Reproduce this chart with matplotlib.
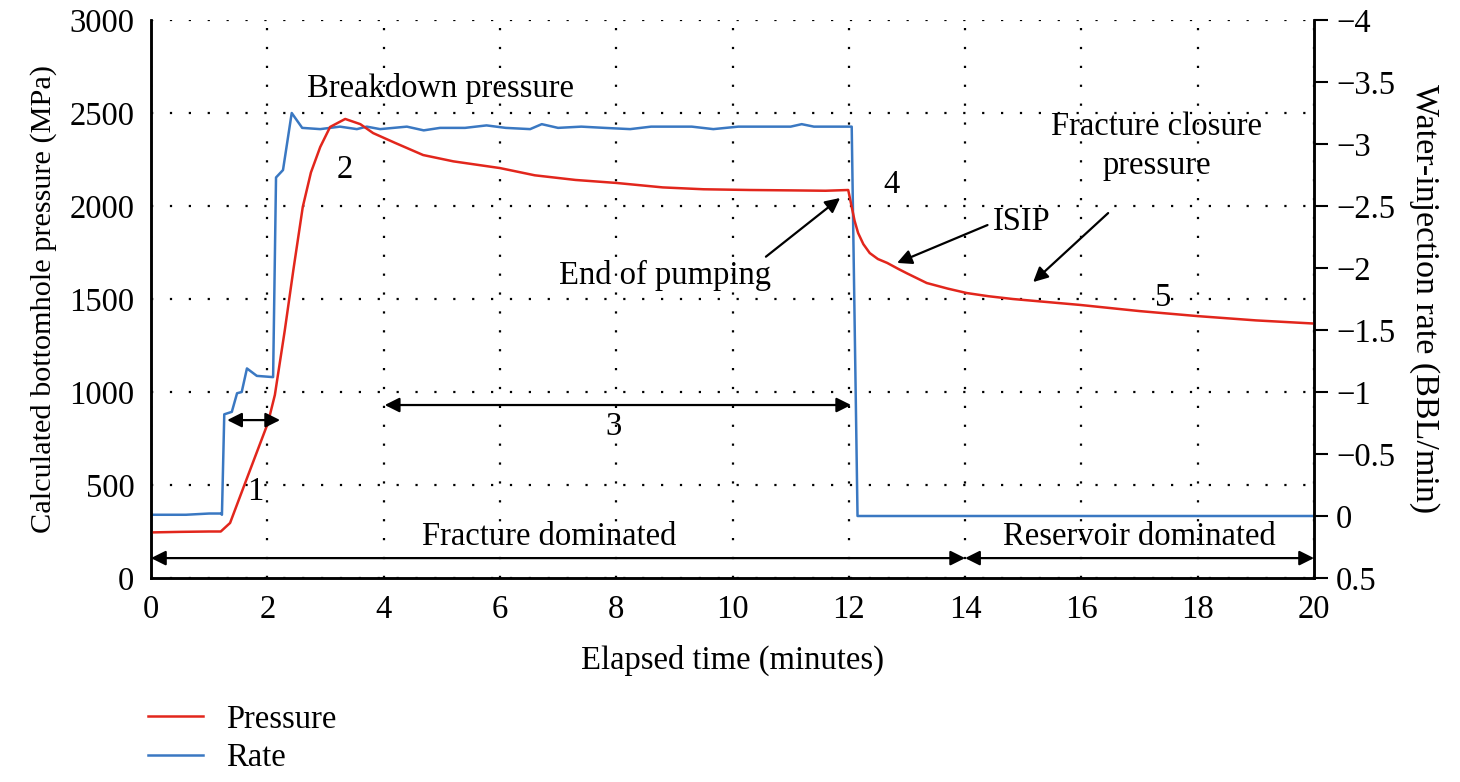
import matplotlib
matplotlib.use('Agg')
import matplotlib.pyplot as plt

plt.rcParams['font.family'] = ['Liberation Serif', 'DejaVu Serif']
plt.rcParams['font.size'] = 23.5

# pressure curve (minutes, MPa)
time_p = [0, 0.5, 1.0, 1.2, 1.36, 1.6, 1.8, 2.01, 2.13, 2.3, 2.45, 2.61, 2.75, 2.91, 3.08,
          3.34, 3.6, 3.82, 4.2, 4.68, 5.2, 6.0, 6.6, 7.3, 8.0, 8.8, 9.5, 10.3, 11.0, 11.6,
          11.99, 12.05, 12.1, 12.16, 12.25, 12.36, 12.5, 12.66, 12.85, 13.0, 13.34, 13.7,
          14.03, 14.4, 14.82, 15.4, 15.98, 17.0, 18.0, 19.0, 20.0]
pressure = [245, 248, 250, 250, 296, 495, 660, 833, 984, 1330, 1660, 1995, 2180, 2317, 2425,
            2468, 2440, 2392, 2339, 2274, 2240, 2204, 2165, 2140, 2124, 2100, 2090, 2086, 2084, 2082,
            2086, 1995, 1920, 1855, 1795, 1747, 1715, 1694, 1662, 1638, 1586, 1556,
            1532, 1515, 1500, 1484, 1468, 1435, 1408, 1385, 1368]

# injection rate (minutes, BBL/min, negative = injection)
time_r = [0, 0.6, 1.0, 1.2, 1.22, 1.26, 1.39, 1.48, 1.56, 1.65, 1.82, 2.1, 2.15, 2.27, 2.42,
          2.6, 2.91, 3.25, 3.54, 3.71, 3.94, 4.4, 4.69, 4.97, 5.4, 5.77, 6.1, 6.52, 6.72,
          7.0, 7.4, 7.8, 8.24, 8.6, 9.0, 9.3, 9.67, 10.1, 10.6, 11.0, 11.19, 11.4, 11.8,
          12.05, 12.15, 13.0, 16.0, 20.0]
rate = [-0.01, -0.01, -0.02, -0.02, -0.01, -0.82, -0.84, -0.99, -1.0, -1.19, -1.13, -1.12, -2.73, -2.79, -3.25,
        -3.13, -3.12, -3.14, -3.12, -3.14, -3.12, -3.14, -3.11, -3.13, -3.13, -3.15, -3.13, -3.12, -3.16,
        -3.13, -3.14, -3.13, -3.12, -3.14, -3.14, -3.14, -3.12, -3.14, -3.14, -3.14, -3.16, -3.14, -3.14,
        -3.14, 0.0, 0.0, 0.0, 0.0]

x_ticks = [0, 2, 4, 6, 8, 10, 12, 14, 16, 18, 20]
p_ticks = [0, 500, 1000, 1500, 2000, 2500, 3000]
r_ticks = [0.5, 0, -0.5, -1, -1.5, -2, -2.5, -3, -3.5, -4]
r_labels = ['0.5', '0', '\u22120.5', '\u22121', '\u22121.5', '\u22122', '\u22122.5', '\u22123', '\u22123.5', '\u22124']

red = '#e2261c'
blue = '#3a78c2'

fig = plt.figure(figsize=(14.6, 7.82), dpi=100)
ax = fig.add_axes([151 / 1460, 1 - 578 / 782, 1163 / 1460, 558 / 782])
ax2 = ax.twinx()

ax.set_xlim(0, 20)
ax.set_ylim(0, 3000)
ax2.set_ylim(0.5, -4)
ax.set_xticks(x_ticks)
ax.set_yticks(p_ticks)
ax2.set_yticks(r_ticks)
ax2.set_yticklabels(r_labels)

ax.grid(True, color='black', linestyle=(0, (1.0, 7.5)), linewidth=1.6)
ax.tick_params(axis='both', length=0, pad=12)
ax2.tick_params(axis='y', length=10, width=1.5, pad=6)

for a in (ax, ax2):
    a.spines['top'].set_visible(False)
    for s in ('left', 'right', 'bottom'):
        a.spines[s].set_linewidth(1.8)

l2, = ax2.plot(time_r, rate, color=blue, lw=1.8, label='Rate')
l1, = ax.plot(time_p, pressure, color=red, lw=1.8, label='Pressure')
ax.set_zorder(ax2.get_zorder() + 1)
ax.patch.set_visible(False)

ax.set_xlabel('Elapsed time (minutes)', labelpad=14)
ax.set_ylabel('Calculated bottomhole pressure (MPa)', fontsize=21.8, labelpad=9)
ax2.set_ylabel('Water-injection rate (BBL/min)', fontsize=24.5, rotation=270, labelpad=32)

# text annotations
ax.text(4.97, 2634, 'Breakdown pressure', ha='center', va='center')
ax.text(3.34, 2194, '2', ha='center', va='center')
ax.text(1.79, 462, '1', ha='center', va='center')
ax.text(7.96, 812, '3', ha='center', va='center')
ax.text(12.74, 2113, '4', ha='center', va='center')
ax.text(17.4, 1505, '5', ha='center', va='center')
ax.text(17.3, 2320, 'Fracture closure\npressure', ha='center', va='center', linespacing=1.35)
ax.text(6.84, 220, 'Fracture dominated', ha='center', va='center')
ax.text(17.0, 220, 'Reservoir dominated', ha='center', va='center')

single = dict(arrowstyle='-|>', color='black', lw=1.6, mutation_scale=22, shrinkA=0, shrinkB=0)
double = dict(arrowstyle='<|-|>', color='black', lw=1.6, mutation_scale=22, shrinkA=0, shrinkB=0)

ax.annotate('End of pumping', xy=(11.85, 2043), xytext=(8.84, 1629), ha='center', va='center',
            arrowprops=dict(single, relpos=(0.95, 0.95)))
ax.annotate('ISIP', xy=(12.83, 1694), xytext=(14.98, 1914), ha='center', va='center',
            arrowprops=dict(single, relpos=(-0.1, 0.4)))
ax.annotate('', xy=(15.17, 1591), xytext=(16.46, 1962), arrowprops=single)

ax.annotate('', xy=(1.31, 849), xytext=(2.22, 849), arrowprops=double)
ax.annotate('', xy=(4.02, 930), xytext=(12.04, 930), arrowprops=double)
ax.annotate('', xy=(0.0, 107), xytext=(14.0, 107), arrowprops=double)
ax.annotate('', xy=(14.0, 107), xytext=(20.0, 107), arrowprops=double)

fig.legend(handles=[l1, l2], loc='upper left', bbox_to_anchor=(148 / 1460, 1 - 704 / 782),
           frameon=False, handlelength=1.7, handletextpad=0.7, labelspacing=0.25,
           borderaxespad=0, borderpad=0)

fig.savefig('out.png', dpi=100)
